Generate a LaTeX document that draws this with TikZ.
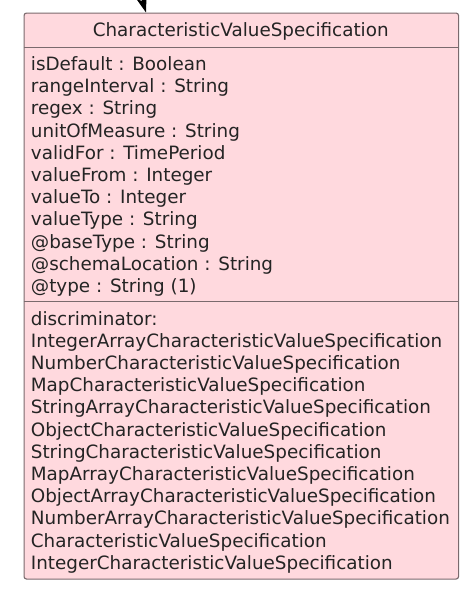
\documentclass[tikz,border=0pt]{standalone}
\usepackage{fontspec}
\setmainfont{DejaVu Sans}
\usetikzlibrary{positioning,arrows.meta}
\definecolor{classfill}{RGB}{255,217,222}
\definecolor{classline}{RGB}{122,106,109}
\definecolor{classtext}{RGB}{36,36,36}
\newcommand{\umlfont}{\fontsize{18.35}{22}\selectfont}

\begin{document}
\begin{tikzpicture}[
  x=1pt,y=-1pt,
  classbox/.style={draw=classline,fill=classfill,line width=1.1pt,
                   rounded corners=2.5pt,minimum width=434.5pt,
                   minimum height=566pt,inner sep=0pt},
  classname/.style={anchor=base,inner sep=0pt,font=\umlfont,
                    text=classtext},
  member/.style={anchor=base west,inner sep=0pt,font=\umlfont,
                 text=classtext},
  sep/.style={classline,line width=1.1pt},
  arr/.style={-{Stealth[length=15pt,width=10pt,inset=3pt]},line width=1pt}
]
\useasboundingbox (0,0) rectangle (474,592);

\node[classbox,anchor=north west] (cls) at (23.5,12.5) {};
\node[classname] (title) at (240.7,36) {CharacteristicValueSpecification};

\coordinate (sepA) at (23.5,47.5);
\coordinate (sepB) at (23.5,301.5);
\draw[sep] (sepA) -- (sepA -| cls.east);
\draw[sep] (sepB) -- (sepB -| cls.east);

% attributes
\foreach \txt [count=\i] in {isDefault : Boolean,rangeInterval : String,
    regex : String,unitOfMeasure : String,validFor : TimePeriod,
    valueFrom : Integer,valueTo : Integer,valueType : String,
    @baseType : String,@schemaLocation : String,@type : String (1)}
  {\node[member] (attr\i) at (30.7,{70.5+22.2*(\i-1)}) {\txt};}

% discriminator
\foreach \txt [count=\i] in {discriminator:,
    IntegerArrayCharacteristicValueSpecification,
    NumberCharacteristicValueSpecification,
    MapCharacteristicValueSpecification,
    StringArrayCharacteristicValueSpecification,
    ObjectCharacteristicValueSpecification,
    StringCharacteristicValueSpecification,
    MapArrayCharacteristicValueSpecification,
    ObjectArrayCharacteristicValueSpecification,
    NumberArrayCharacteristicValueSpecification,
    CharacteristicValueSpecification,
    IntegerCharacteristicValueSpecification}
  {\node[member] (disc\i) at (30.7,{325+22.2*(\i-1)}) {\txt};}

% incoming link, cut by the page edge
\coordinate (linksrc) at (134.4,-25.8);
\coordinate (linkend) at (146,12.5);
\draw[arr] (linksrc) -- (linkend);

\end{tikzpicture}
\end{document}
